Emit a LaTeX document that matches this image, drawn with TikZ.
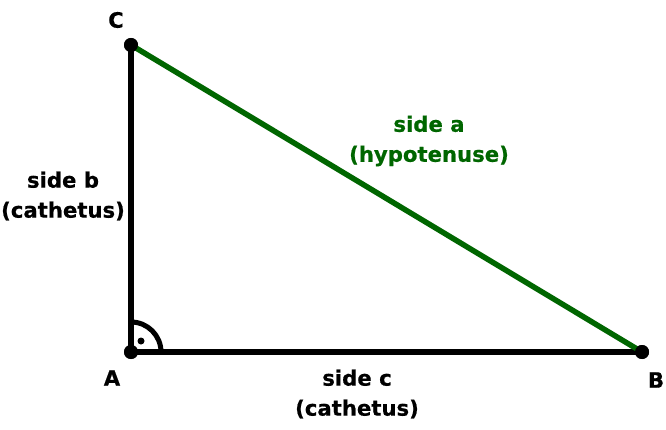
\documentclass[tikz,border=0pt]{standalone}
\usepackage{fontspec}
\setmainfont[BoldFeatures={FakeBold=0.6}]{DejaVu Sans}
\definecolor{hypgreen}{RGB}{0,102,0}
\begin{document}
\begin{tikzpicture}[x=1pt,y=-1pt,
  lbl/.style={font=\bfseries\fontsize{21.2}{30}\selectfont,align=center,inner sep=0pt},
  vtx/.style={circle,fill=black,inner sep=0pt,minimum size=14pt},
  side/.style={line width=5.5pt}]
\useasboundingbox (0,0) rectangle (666,430);
\node[vtx] (A) at (131,352) {};
\node[vtx] (B) at (642,352) {};
\node[vtx] (C) at (131,45) {};
\draw[side,black] (A.center) -- (B.center);
\draw[side,black] (A.center) -- (C.center);
\draw[side,hypgreen] (C.center) -- (B.center);
\node[vtx] at (A) {};
\node[vtx] at (B) {};
\node[vtx] at (C) {};
\draw[line width=5pt] (131,322) arc[start angle=90,end angle=0,radius=30pt];
\node[circle,fill=black,inner sep=0pt,minimum size=7pt] (dot) at (141,341) {};
\node[lbl] (lC) at (116,20) {C};
\node[lbl] (lA) at (112,378) {A};
\node[lbl] (lB) at (656,380) {B};
\node[lbl,text=hypgreen] (la) at (429,141) {side a\\(hypotenuse)};
\node[lbl] (lb) at (63,196) {side b\\(cathetus)};
\node[lbl] (lc) at (357,394) {side c\\(cathetus)};
\end{tikzpicture}
\end{document}
